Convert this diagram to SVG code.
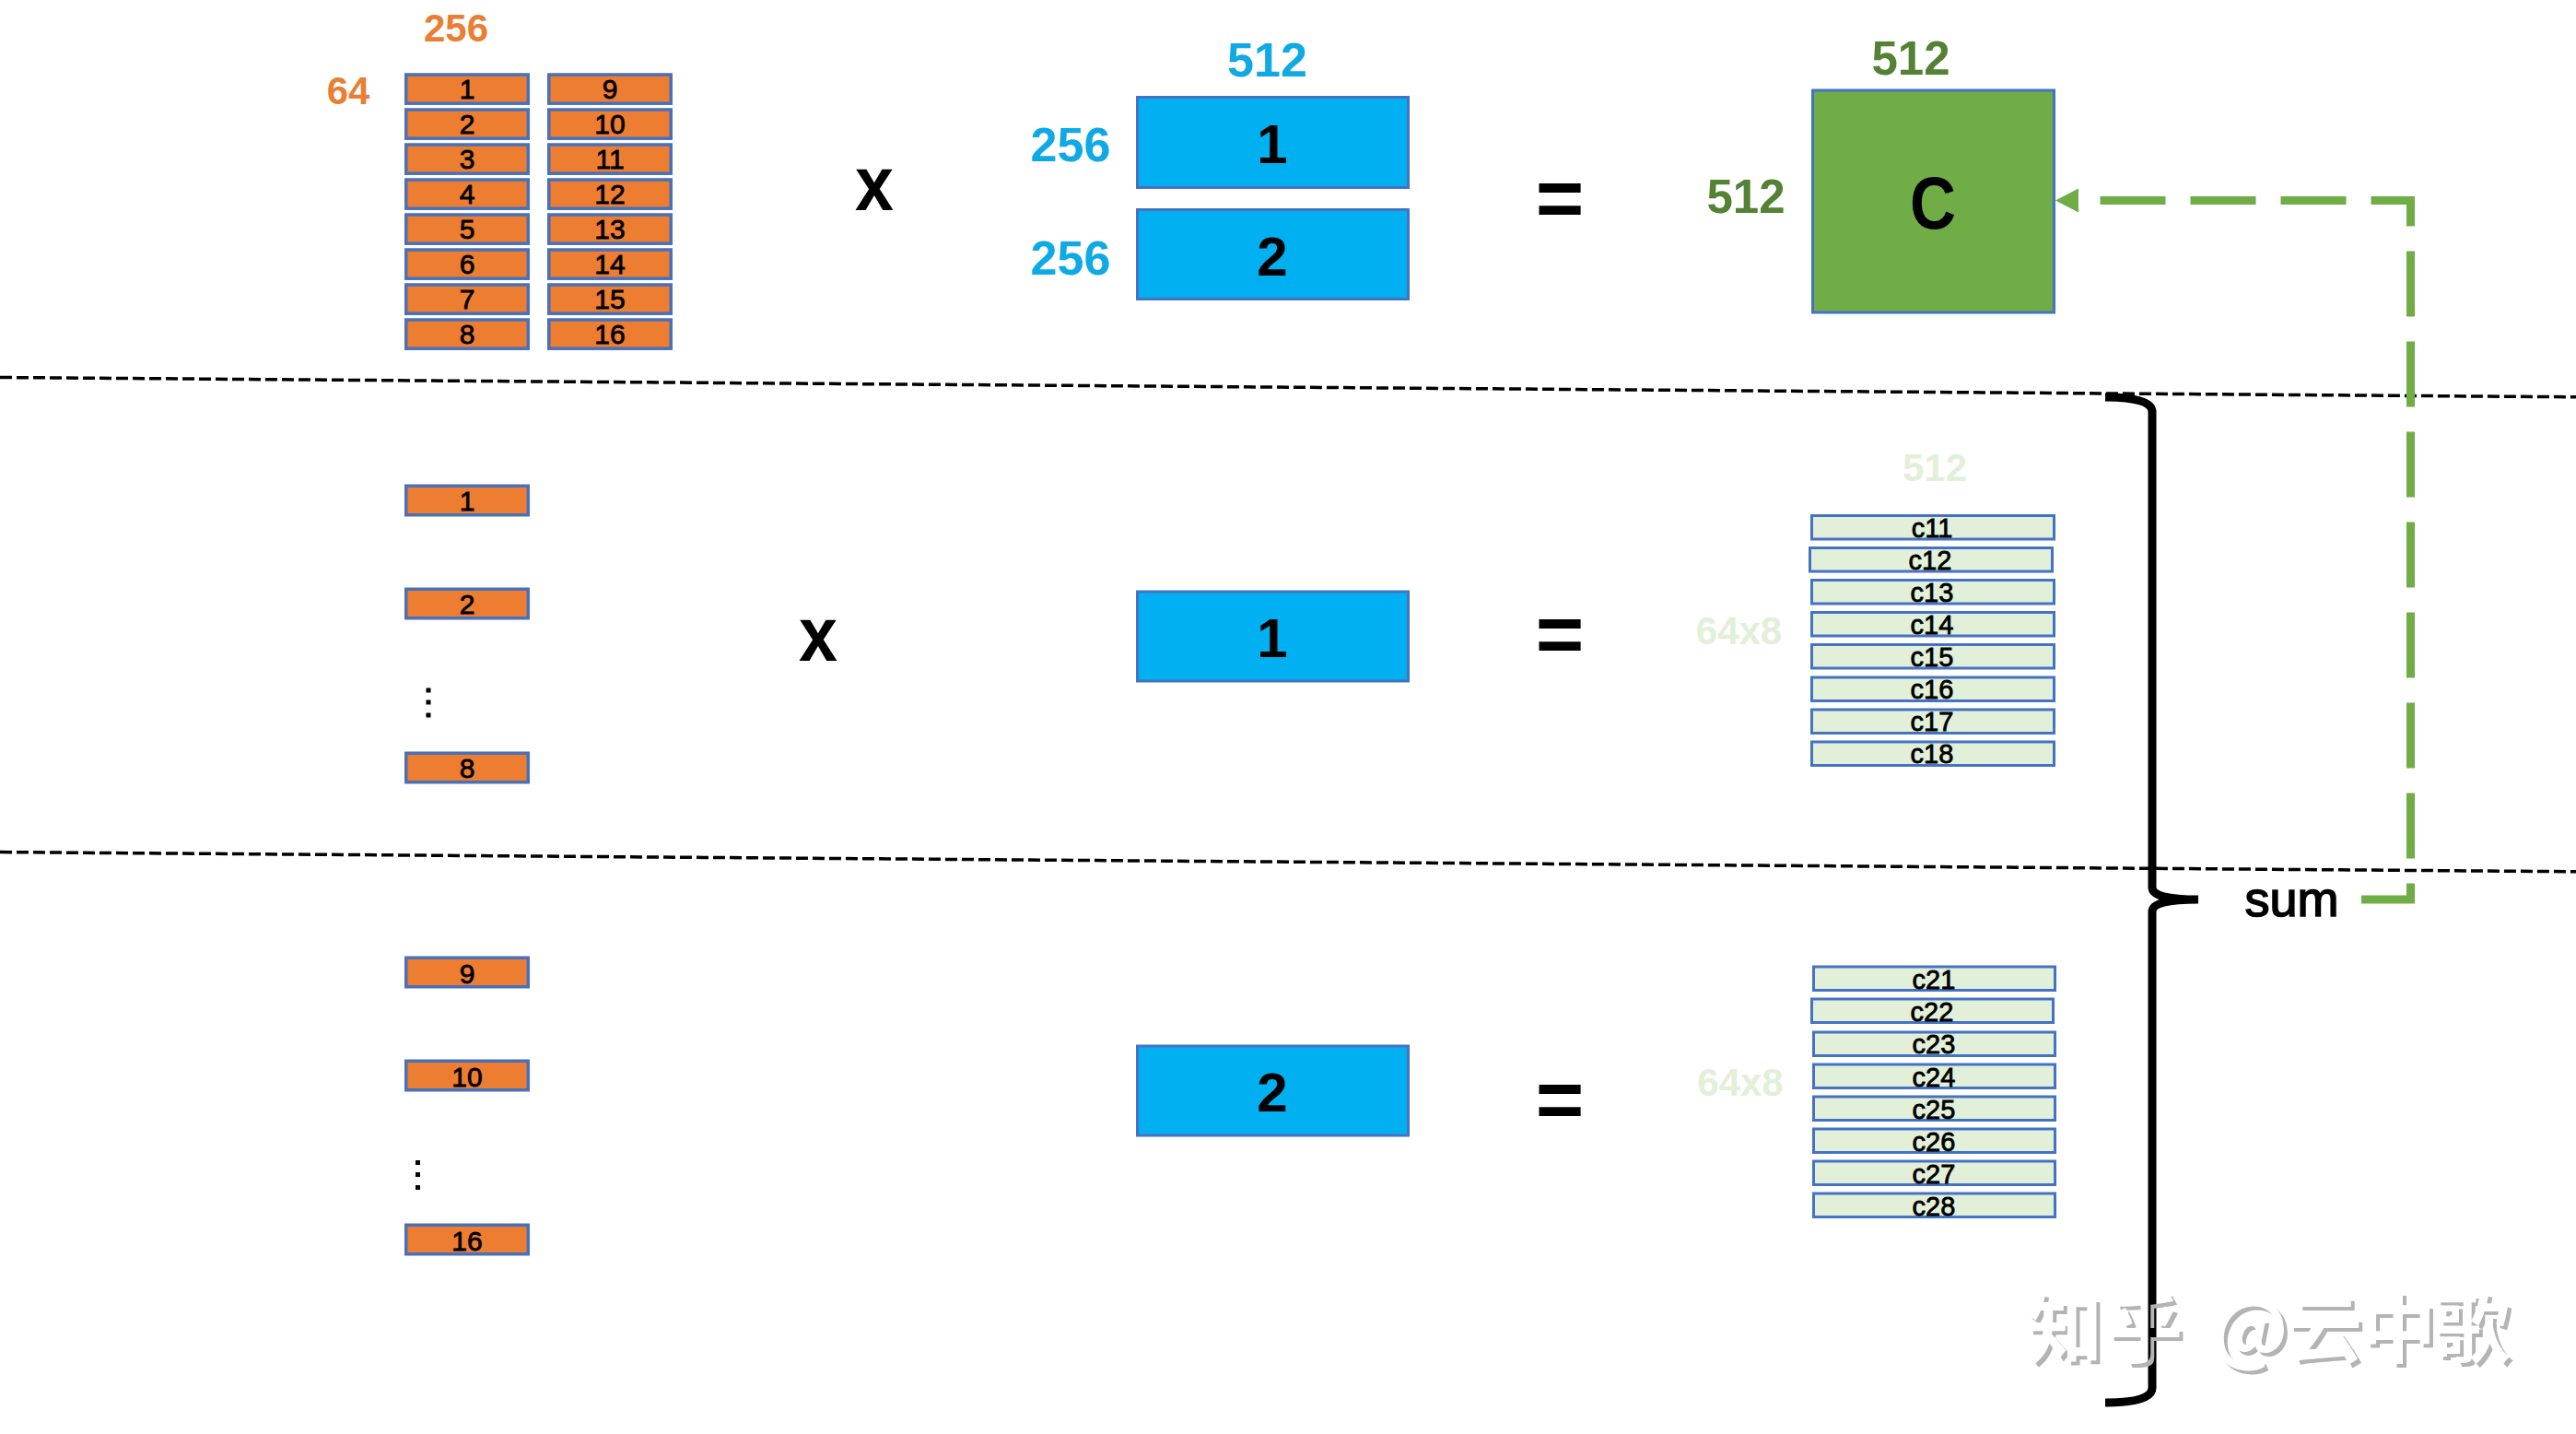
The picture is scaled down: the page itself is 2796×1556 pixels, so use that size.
<svg xmlns="http://www.w3.org/2000/svg" width="2796" height="1556" viewBox="0 0 2796 1556">
<style>
text{font-family:"Liberation Sans",Arial,sans-serif;text-anchor:middle}
.o{fill:#ED7D31;stroke:#4A70B8;stroke-width:3.5}
.g{fill:#E2F0D9;stroke:#4472C4;stroke-width:3}
.b{fill:#00B0F0;stroke:#4472C4;stroke-width:3}
.n{font-size:30px;fill:#000;stroke:#000;stroke-width:.8}
.c{font-size:29px;fill:#000;stroke:#000;stroke-width:.8}
.lo{font-size:42px;font-weight:700;fill:#E97E35}
.lb{font-size:52px;font-weight:700;fill:#0FA9E6}
.lg{font-size:51px;font-weight:700;fill:#548235}
.ll{font-size:42px;font-weight:700;fill:#E2F0D9}
.big{font-size:60px;font-weight:700;fill:#000}
.op{font-size:84px;font-weight:700;fill:#000}
.eq{font-size:90px;font-weight:700;fill:#000}
.dots{fill:#000}
.sep{fill:none;stroke:#000;stroke-width:3.5;stroke-dasharray:13 5}
</style>
<defs>
<marker id="ah" markerUnits="userSpaceOnUse" markerWidth="25" markerHeight="28" viewBox="0 0 25 28" refX="0" refY="14" orient="auto"><path d="M0 1L25 14L0 27Z" fill="#70AD47"/></marker>
<filter id="wm" x="-5%" y="-10%" width="110%" height="120%"><feOffset in="SourceGraphic" dx="-4" dy="-4" result="s"/><feComposite in="SourceGraphic" in2="s" operator="out"/></filter>
</defs>

<g id="connectors">
<path class="sep" d="M0 409.5L2796 430.8"/>
<path class="sep" d="M0 924.6L2796 945.8"/>
<path d="M2285 431Q2336 431 2336 447V963Q2336 976 2386 976Q2336 976 2336 989V1506Q2336 1522 2285 1522" fill="none" stroke="#000" stroke-width="9"/>
<path d="M2563 976H2616.5V217.5H2256" fill="none" stroke="#70AD47" stroke-width="9" stroke-dasharray="71 27" marker-end="url(#ah)"/>
</g>

<g id="top-matrix">
<text class="lo" x="495" y="44.5">256</text>
<text class="lo" x="378" y="113">64</text>
<g id="a1"><rect class="o" x="440.75" y="81" width="132.5" height="31.2"/><text class="n" x="507" y="107">1</text></g>
<g id="a2"><rect class="o" x="440.75" y="119" width="132.5" height="31.2"/><text class="n" x="507" y="145">2</text></g>
<g id="a3"><rect class="o" x="440.75" y="157" width="132.5" height="31.2"/><text class="n" x="507" y="183">3</text></g>
<g id="a4"><rect class="o" x="440.75" y="195" width="132.5" height="31.2"/><text class="n" x="507" y="221">4</text></g>
<g id="a5"><rect class="o" x="440.75" y="233" width="132.5" height="31.2"/><text class="n" x="507" y="259">5</text></g>
<g id="a6"><rect class="o" x="440.75" y="271" width="132.5" height="31.2"/><text class="n" x="507" y="297">6</text></g>
<g id="a7"><rect class="o" x="440.75" y="309" width="132.5" height="31.2"/><text class="n" x="507" y="335">7</text></g>
<g id="a8"><rect class="o" x="440.75" y="347" width="132.5" height="31.2"/><text class="n" x="507" y="373">8</text></g>
<g id="a9"><rect class="o" x="595.75" y="81" width="132.5" height="31.2"/><text class="n" x="662" y="107">9</text></g>
<g id="a10"><rect class="o" x="595.75" y="119" width="132.5" height="31.2"/><text class="n" x="662" y="145">10</text></g>
<g id="a11"><rect class="o" x="595.75" y="157" width="132.5" height="31.2"/><text class="n" x="662" y="183">11</text></g>
<g id="a12"><rect class="o" x="595.75" y="195" width="132.5" height="31.2"/><text class="n" x="662" y="221">12</text></g>
<g id="a13"><rect class="o" x="595.75" y="233" width="132.5" height="31.2"/><text class="n" x="662" y="259">13</text></g>
<g id="a14"><rect class="o" x="595.75" y="271" width="132.5" height="31.2"/><text class="n" x="662" y="297">14</text></g>
<g id="a15"><rect class="o" x="595.75" y="309" width="132.5" height="31.2"/><text class="n" x="662" y="335">15</text></g>
<g id="a16"><rect class="o" x="595.75" y="347" width="132.5" height="31.2"/><text class="n" x="662" y="373">16</text></g>
</g>

<text class="op" x="949" y="228" textLength="42" lengthAdjust="spacingAndGlyphs">x</text>

<g id="top-blue">
<text class="lb" x="1375.5" y="83">512</text>
<text class="lb" x="1162" y="175">256</text>
<text class="lb" x="1162" y="298">256</text>
<g id="b1"><rect class="b" x="1234.5" y="105.5" width="294" height="98"/><text class="big" x="1381" y="176.5">1</text></g>
<g id="b2"><rect class="b" x="1234.5" y="227.5" width="294" height="97"/><text class="big" x="1381" y="298.5">2</text></g>
</g>

<text class="eq" x="1693" y="246">=</text>

<g id="result-c">
<text class="lg" x="2074" y="81">512</text>
<text class="lg" x="1895" y="231">512</text>
<rect x="1967.5" y="98" width="262" height="241" fill="#70AD47" stroke="#4472C4" stroke-width="3"/>
<text x="2098" y="248" font-size="80" font-weight="700" fill="#000" textLength="50" lengthAdjust="spacingAndGlyphs">C</text>
</g>

<g id="mid-left">
<g id="m1"><rect class="o" x="440.75" y="527.25" width="132.5" height="31.5"/><text class="n" x="507" y="554">1</text></g>
<g id="m2"><rect class="o" x="440.75" y="639.25" width="132.5" height="31.5"/><text class="n" x="507" y="666">2</text></g>
<g id="m8"><rect class="o" x="440.75" y="817.25" width="132.5" height="31.5"/><text class="n" x="507" y="844">8</text></g>
<g class="dots"><rect x="462.5" y="746.5" width="5" height="5"/><rect x="462.5" y="759.5" width="5" height="5"/><rect x="462.5" y="773.5" width="5" height="5"/></g>
</g>

<text class="op" x="888" y="717" textLength="42" lengthAdjust="spacingAndGlyphs">x</text>

<g id="mid-blue"><rect class="b" x="1234.5" y="642" width="294" height="97"/><text class="big" x="1381" y="712.5">1</text></g>
<text class="eq" x="1693" y="719">=</text>

<g id="c1-stack">
<text class="ll" x="2100" y="521.5">512</text>
<text class="ll" x="1887.5" y="698.5">64x8</text>
<g id="c11"><rect class="g" x="1966.5" y="559.5" width="263" height="25.5"/><text class="c" x="2097" y="582.5">c11</text></g>
<g id="c12"><rect class="g" x="1964.5" y="594.5" width="263" height="25.5"/><text class="c" x="2095" y="617.5">c12</text></g>
<g id="c13"><rect class="g" x="1966.5" y="629.5" width="263" height="25.5"/><text class="c" x="2097" y="653">c13</text></g>
<g id="c14"><rect class="g" x="1966.5" y="664.5" width="263" height="25.5"/><text class="c" x="2097" y="688">c14</text></g>
<g id="c15"><rect class="g" x="1966.5" y="699.5" width="263" height="25.5"/><text class="c" x="2097" y="723">c15</text></g>
<g id="c16"><rect class="g" x="1966.5" y="735" width="263" height="25.5"/><text class="c" x="2097" y="758">c16</text></g>
<g id="c17"><rect class="g" x="1966.5" y="770" width="263" height="25.5"/><text class="c" x="2097" y="793">c17</text></g>
<g id="c18"><rect class="g" x="1966.5" y="805" width="263" height="25.5"/><text class="c" x="2097" y="828">c18</text></g>
</g>

<g id="sum"><text x="2487.5" y="994" font-size="54" fill="#000" stroke="#000" stroke-width="1.6">sum</text></g>

<g id="low-left">
<g id="m9"><rect class="o" x="440.75" y="1039.25" width="132.5" height="31.5"/><text class="n" x="507" y="1066.5">9</text></g>
<g id="m10"><rect class="o" x="440.75" y="1151.25" width="132.5" height="31.5"/><text class="n" x="507" y="1178.5">10</text></g>
<g id="m16"><rect class="o" x="440.75" y="1329.25" width="132.5" height="31.5"/><text class="n" x="507" y="1356.5">16</text></g>
<g class="dots"><rect x="451" y="1259" width="5" height="5"/><rect x="451" y="1272" width="5" height="5"/><rect x="451" y="1286" width="5" height="5"/></g>
</g>

<g id="low-blue"><rect class="b" x="1234.5" y="1135" width="294" height="97"/><text class="big" x="1381" y="1206">2</text></g>
<text class="eq" x="1693" y="1224">=</text>

<g id="c2-stack">
<text class="ll" x="1889" y="1188.5">64x8</text>
<g id="c21"><rect class="g" x="1968.5" y="1049" width="262" height="25.5"/><text class="c" x="2099" y="1072.5">c21</text></g>
<g id="c22"><rect class="g" x="1966.5" y="1084" width="262" height="25.5"/><text class="c" x="2097" y="1107.5">c22</text></g>
<g id="c23"><rect class="g" x="1968.5" y="1120" width="262" height="25.5"/><text class="c" x="2099" y="1142.5">c23</text></g>
<g id="c24"><rect class="g" x="1968.5" y="1155" width="262" height="25.5"/><text class="c" x="2099" y="1178.5">c24</text></g>
<g id="c25"><rect class="g" x="1968.5" y="1190" width="262" height="25.5"/><text class="c" x="2099" y="1213.5">c25</text></g>
<g id="c26"><rect class="g" x="1968.5" y="1225" width="262" height="25.5"/><text class="c" x="2099" y="1248.5">c26</text></g>
<g id="c27"><rect class="g" x="1968.5" y="1260" width="262" height="25.5"/><text class="c" x="2099" y="1283.5">c27</text></g>
<g id="c28"><rect class="g" x="1968.5" y="1295" width="262" height="25.5"/><text class="c" x="2099" y="1318.5">c28</text></g>
</g>

<text id="watermark" y="1476" font-size="82" font-weight="700" x="2204 2291 2375 2405 2486 2566 2646" filter="url(#wm)" style="font-family:'Noto Sans CJK SC','Liberation Sans',sans-serif;text-anchor:start;fill:#B4B4B4">知乎 @云中歌</text>
</svg>
